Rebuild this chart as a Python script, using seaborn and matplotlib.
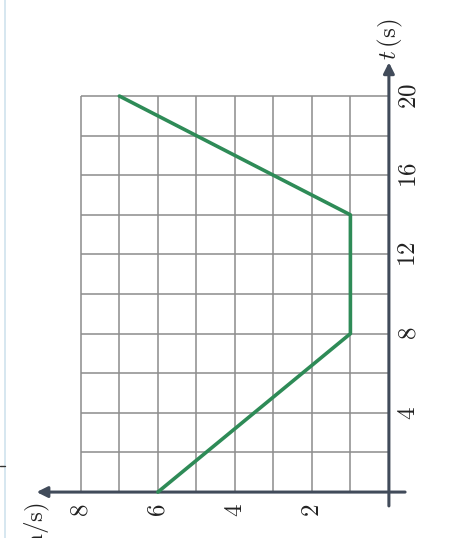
import matplotlib
matplotlib.use("Agg")
import matplotlib.pyplot as plt
import seaborn as sns
import pandas as pd
from matplotlib.lines import Line2D

# velocity-time data (graph is drawn rotated 90 degrees)
t_points = [0, 8, 14, 20]
v_points = [6, 1, 1, 7]
t_ticks = [4, 8, 12, 16, 20]
v_ticks = [2, 4, 6, 8]
t_grid = list(range(0, 21, 2))
v_grid = list(range(0, 9, 1))

df = pd.DataFrame({"t": t_points, "v": v_points})

sns.set_theme(style="white")
plt.rcParams["mathtext.fontset"] = "cm"

fig = plt.figure(figsize=(4.74, 5.38), dpi=100)
ax = fig.add_axes([0, 0, 1, 1])
ax.axis("off")

grid_kw = dict(color="#8c8c8c", linewidth=1.1, zorder=1)
ax.hlines(t_grid, 0, 8, **grid_kw)
ax.vlines(v_grid, 0, 20, **grid_kw)

axis_col = "#414b5a"
ax.annotate("", xy=(9.15, 0), xytext=(-0.42, 0),
            arrowprops=dict(arrowstyle="-|>", color=axis_col, lw=2.2,
                            mutation_scale=16, shrinkA=0, shrinkB=0), zorder=3)
ax.annotate("", xy=(0, 21.7), xytext=(0, -0.7),
            arrowprops=dict(arrowstyle="-|>", color=axis_col, lw=2.2,
                            mutation_scale=16, shrinkA=0, shrinkB=0), zorder=3)

# no aggregation: the flat part has two points with the same v
sns.lineplot(data=df, x="v", y="t", sort=False, estimator=None,
             color="#2e8b57", linewidth=2.6, ax=ax, zorder=4)
ax.set_xlim(10.10, -2.21)
ax.set_ylim(-2.32, 24.85)
ax.set_xlabel("")
ax.set_ylabel("")

for t in t_ticks:
    ax.text(-0.5, t, f"${t}$", rotation=90, ha="center", va="center",
            fontsize=18, color="#222222")
for v in v_ticks:
    ax.text(v, -0.9, f"${v}$", rotation=90, ha="center", va="center",
            fontsize=18, color="#222222")

ax.text(-0.05, 22.85, r"$t\,(\mathrm{s})$", rotation=90, ha="center", va="center",
        fontsize=18, color="#222222")
# the v label is cut by the bottom edge, as in the original screenshot
ax.text(9.12, -0.5, r"$v\,(\mathrm{m/s})$", rotation=90, ha="center", va="top",
        fontsize=18, color="#222222")

# screenshot edge line on the left
fig.add_artist(Line2D([0.011, 0.011], [0, 1], color="#cfe3ee", linewidth=1.2))
fig.add_artist(Line2D([0, 0.011], [0.134, 0.134], color="#333333", linewidth=1.0))

fig.savefig("out.png", dpi=100)
